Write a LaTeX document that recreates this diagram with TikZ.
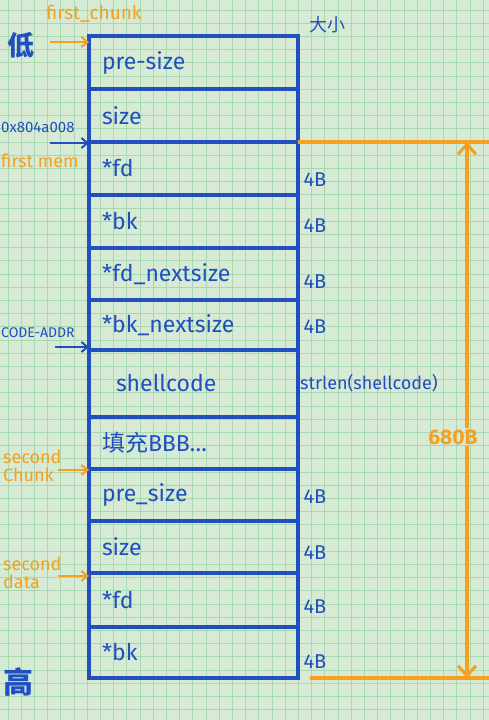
\documentclass[tikz,border=0pt]{standalone}
\usepackage{fontspec}
\setmainfont{Fira Sans}
\newfontfamily\cjk{Noto Sans CJK SC}
\usetikzlibrary{arrows, arrows.meta, positioning, calc}
\definecolor{inkblue}{HTML}{1F4FC0}
\definecolor{penorange}{HTML}{F5A01E}
\definecolor{paper}{HTML}{D7EBD4}
\definecolor{gridgreen}{HTML}{A9D6B3}
\tikzset{
  gridline/.style={gridgreen, line width=0.8pt},
  row/.style={draw=inkblue, line width=3.2pt, outer sep=0pt, minimum width=209pt,
    text width=183pt, inner xsep=13pt, align=left, text=inkblue,
    font=\fontsize{23}{26}\selectfont},
  bluelbl/.style={text=inkblue, inner sep=1pt, font=\fontsize{20}{22}\selectfont},
  orangelbl/.style={text=penorange, inner sep=1pt, font=\fontsize{18}{18}\selectfont},
  cjklbl/.style={text=inkblue, inner sep=0pt, font=\cjk\bfseries\fontsize{27}{29}\selectfont},
  bluepen/.style={inkblue, line width=2pt, -{Straight Barb[length=6pt, width=10pt]}},
  orangepen/.style={penorange, line width=2pt, -{Straight Barb[length=6pt, width=10pt]}},
  measure/.style={penorange, line width=3.4pt}
}
\begin{document}
\begin{tikzpicture}[x=1pt, y=-1pt]
\useasboundingbox[fill=paper] (0,0) rectangle (489,720);
\foreach \gx in {0,...,36} \draw[gridline] ({8+13.2*\gx},0) -- ({8+13.2*\gx},720);
\foreach \gy in {0,...,53} \draw[gridline] (0,{10+13.2*\gy}) -- (489,{10+13.2*\gy});

\node[row, minimum height=53pt, anchor=north west] (r1) at (89,36) {pre-size};
\node[row, minimum height=53pt, below=0pt of r1] (r2) {size};
\node[row, minimum height=53pt, below=0pt of r2] (r3) {*fd};
\node[row, minimum height=53pt, below=0pt of r3] (r4) {*bk};
\node[row, minimum height=52pt, below=0pt of r4] (r5) {*fd\_nextsize};
\node[row, minimum height=50pt, below=0pt of r5] (r6) {*bk\_nextsize};
\node[row, minimum height=67pt, below=0pt of r6] (r7) {\hspace*{14pt}shellcode};
\node[row, minimum height=52pt, below=0pt of r7] (r8) {{\cjk 填充}BBB…};
\node[row, minimum height=52pt, below=0pt of r8] (r9) {pre\_size};
\node[row, minimum height=52pt, below=0pt of r9] (r10) {size};
\node[row, minimum height=54pt, below=0pt of r10] (r11) {*fd};
\node[row, minimum height=51pt, below=0pt of r11] (r12) {*bk};

\node[cjklbl] (low) at (21,45) {低};
\node[cjklbl, font=\cjk\bfseries\fontsize{30}{32}\selectfont] (high) at (18,682) {高};
\node[bluelbl, font=\cjk\fontsize{18}{20}\selectfont] (sz) at (327,25) {大小};

\node[orangelbl, font=\fontsize{19}{20}\selectfont] (fchunk) at (94,14) {first\_chunk};
\coordinate (a1) at (50,42);
\draw[orangepen] (a1) -- (a1 -| r1.west);

\node[bluelbl, anchor=west, font=\fontsize{15}{17}\selectfont] (addr) at (0,127) {0x804a008};
\node[orangelbl, anchor=west] (fmem) at (0,161) {first mem};
\coordinate (a2) at (50,143);
\draw[bluepen] (a2) -- (a2 -| r3.west);

\node[bluelbl, anchor=west, font=\fontsize{14}{16}\selectfont] (code) at (0,333) {CODE-ADDR};
\coordinate (a3) at (55,347);
\draw[bluepen] (a3) -- (a3 -| r6.west);

\node[orangelbl, anchor=north west, align=left] (schunk) at (2,449) {second\\Chunk};
\coordinate (a4) at (58,470);
\draw[orangepen] (a4) -- (a4 -| r9.west);

\node[orangelbl, anchor=north west, align=left] (sdata) at (2,556) {second\\data};
\coordinate (a5) at (58,576);
\draw[orangepen] (a5) -- (a5 -| r11.west);

\node[bluelbl] (b3) at (315,180) {4B};
\node[bluelbl] (b4) at (315,226) {4B};
\node[bluelbl] (b5) at (315,282) {4B};
\node[bluelbl] (b6) at (315,327) {4B};
\node[bluelbl, anchor=west, font=\fontsize{18}{20}\selectfont] (b7) at (299,383) {strlen(shellcode)};
\node[bluelbl] (b9) at (315,497) {4B};
\node[bluelbl] (b10) at (315,553) {4B};
\node[bluelbl] (b11) at (315,607) {4B};
\node[bluelbl] (b12) at (315,662) {4B};

\coordinate (e1) at (489,142);
\coordinate (e2) at (310,678);
\coordinate (e3) at (489,678);
\coordinate (d1) at (467,142);
\coordinate (d2) at (467,678);
\node[orangelbl, font=\bfseries\fontsize{21}{23}\selectfont] (len) at (453,437) {680B};
\draw[measure] (r3.north east) -- (e1);
\draw[measure] (e2) -- (e3);
\draw[measure, -{Straight Barb[length=10pt, width=18pt, line width=3pt]}] (d1 |- len.north) -- (d1);
\draw[measure, -{Straight Barb[length=10pt, width=18pt, line width=3pt]}] (d2 |- len.south) -- (d2);
\end{tikzpicture}
\end{document}
